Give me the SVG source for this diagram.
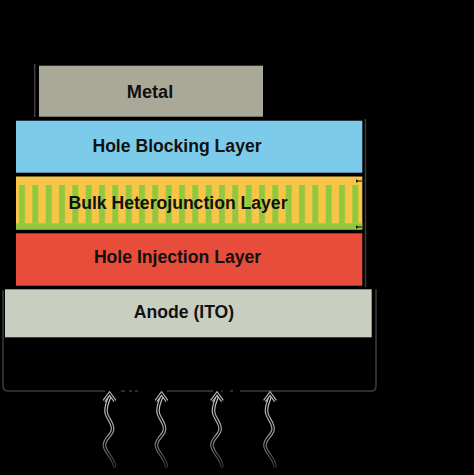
<svg xmlns="http://www.w3.org/2000/svg" width="474" height="475" viewBox="0 0 474 475">
  <style>
    .lbl { font-family: "Liberation Sans", Arial, sans-serif; font-weight: bold; font-size: 17.6px; fill: #111; text-anchor: middle; }
    .frame { fill: none; stroke: #3c3c3c; stroke-width: 1.5; }
    .wave-outer { fill: none; stroke: url(#fade); stroke-width: 3.6; stroke-linecap: round; }
    .wave-inner { fill: none; stroke: #000; stroke-width: 1.3; stroke-linecap: round; }
    .head-outer { fill: none; stroke: #bdbdbd; stroke-width: 3.4; stroke-linejoin: miter; }
    .head-inner { fill: none; stroke: #000; stroke-width: 1.2; stroke-linejoin: miter; }
    .tick { stroke: #1a1a1a; stroke-width: 1; fill: none; }
  </style>
  <defs>
    <pattern id="stripes" patternUnits="userSpaceOnUse" x="19" y="185" width="13.333" height="40">
      <rect x="0" y="0" width="6" height="40" fill="#92C83E"/>
    </pattern>
    <linearGradient id="fade" gradientUnits="userSpaceOnUse" x1="0" y1="396" x2="0" y2="468">
      <stop offset="0" stop-color="#cfcfcf"/>
      <stop offset="0.55" stop-color="#9a9a9a"/>
      <stop offset="1" stop-color="#2e2e2e"/>
    </linearGradient>
    <marker id="tiny" viewBox="0 0 6 6" refX="1" refY="3" markerWidth="4" markerHeight="4" orient="auto">
      <path d="M6,0 L0,3 L6,6 Z" fill="#1a1a1a"/>
    </marker>
    <path id="wave" d="M0,397 C-2,403 -5,408 -3,414 C-1,420 4,424 3,430 C2,436 -6,439 -5,446 C-4,453 4,458 5,466"/>
    <polyline id="head" points="-5.5,401 0,393.5 5.5,401"/>
  </defs>

  <rect x="0" y="0" width="474" height="475" fill="#000"/>

  <g id="metal">
    <rect x="39" y="65.7" width="224" height="51" fill="#AAA998"/>
    <text class="lbl" x="150" y="97.5" style="font-size:18.2px">Metal</text>
  </g>

  <g id="hole-blocking-layer">
    <rect x="16" y="120.7" width="346.3" height="52" fill="#7DCBEA"/>
    <text class="lbl" x="177" y="151.7">Hole Blocking Layer</text>
  </g>

  <g id="bulk-heterojunction-layer">
    <rect x="16" y="176.5" width="346.3" height="53" fill="#F7C548"/>
    <rect x="16" y="185" width="346.3" height="38.5" fill="url(#stripes)"/>
    <rect x="16" y="223.3" width="346.3" height="6.2" fill="#92C83E"/>
    <text class="lbl" x="178" y="209">Bulk Heterojunction Layer</text>
  </g>

  <g id="hole-injection-layer">
    <rect x="16" y="233.3" width="346.3" height="52.4" fill="#E84C3B"/>
    <text class="lbl" x="177.5" y="263.3">Hole Injection Layer</text>
  </g>

  <g id="anode">
    <rect x="5" y="289.3" width="366.7" height="48" fill="#C8CFC1"/>
    <text class="lbl" x="184" y="318.3">Anode (ITO)</text>
  </g>

  <g id="frame-lines">
    <path class="frame" d="M34.7,64 V117"/>
    <path class="frame" d="M365.5,119 V287"/>
    <path class="frame" d="M3,290 V386 Q3,391 8,391 H105"/>
    <path class="frame" d="M121,391 H125 M129,391 H132 M135,391 H138"/>
    <path class="frame" d="M167,391 H213"/>
    <path class="frame" d="M221,391 H223 M230,391 H233"/>
    <path class="frame" d="M240,391 H371 Q376,391 376,386 V289"/>
  </g>

  <g id="connectors">
    <path class="tick" d="M365,181 H359" marker-end="url(#tiny)"/>
    <path class="tick" d="M365,227 H359" marker-end="url(#tiny)"/>
    <g transform="translate(109.5,0)">
      <use href="#wave" class="wave-outer"/><use href="#wave" class="wave-inner"/>
      <use href="#head" class="head-outer"/><use href="#head" class="head-inner"/>
    </g>
    <g transform="translate(161.5,0)">
      <use href="#wave" class="wave-outer"/><use href="#wave" class="wave-inner"/>
      <use href="#head" class="head-outer"/><use href="#head" class="head-inner"/>
    </g>
    <g transform="translate(217,0)">
      <use href="#wave" class="wave-outer"/><use href="#wave" class="wave-inner"/>
      <use href="#head" class="head-outer"/><use href="#head" class="head-inner"/>
    </g>
    <g transform="translate(270,0)">
      <use href="#wave" class="wave-outer"/><use href="#wave" class="wave-inner"/>
      <use href="#head" class="head-outer"/><use href="#head" class="head-inner"/>
    </g>
  </g>
</svg>
